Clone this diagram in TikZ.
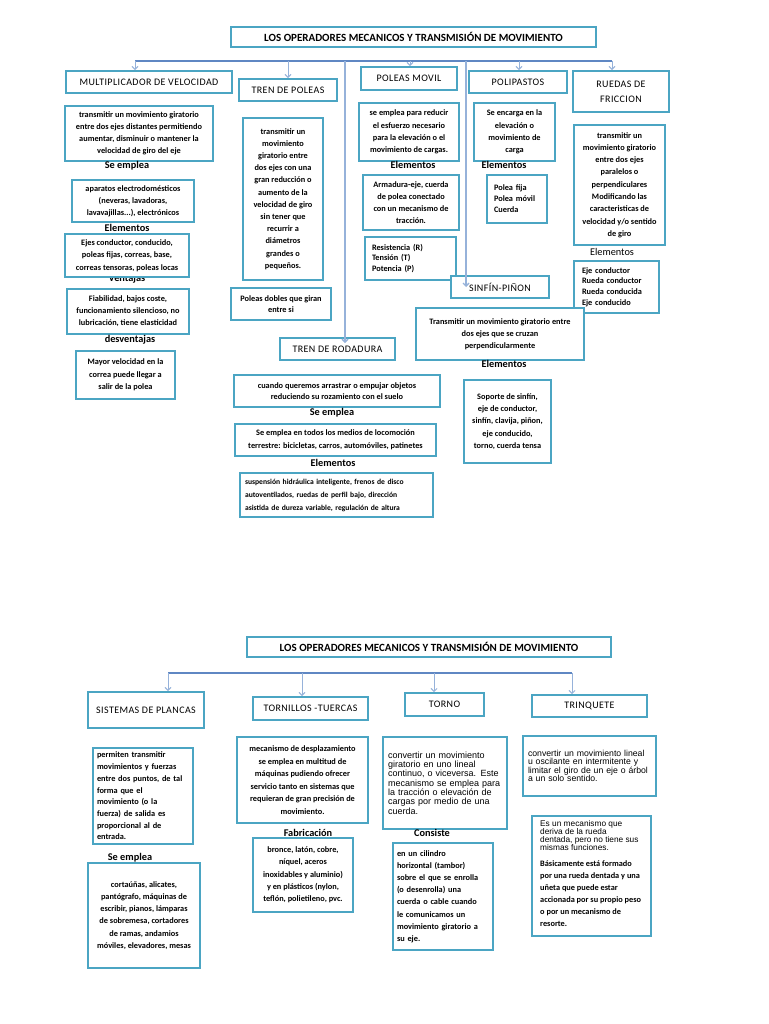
\documentclass[tikz,border=0pt]{standalone}
\usepackage{fontspec}
\setmainfont{Carlito}
\newfontfamily\arialf{Liberation Sans}
\usetikzlibrary{arrows.meta,calc}
\definecolor{boxc}{RGB}{75,165,195}
\definecolor{busc}{RGB}{95,135,195}
\definecolor{linec}{RGB}{150,178,218}
\newcommand\myd[1]{\fontsize{8.3}{#1}\selectfont\bfseries}
\newcommand\myh{\fontsize{10}{15}\selectfont\addfontfeatures{LetterSpace=4}}
\newcommand\myt{\fontsize{11}{12}\selectfont\bfseries}
\newcommand\myl{\fontsize{10.3}{12}\selectfont\bfseries}
\newcommand\mya[2]{\arialf\fontsize{#1}{#2}\selectfont}
\begin{document}
\begin{tikzpicture}[x=1pt,y=-1pt,
  box/.style={draw=boxc, line width=1.7pt, fill=white, inner sep=0pt, align=center},
  bx/.style 2 args={box, minimum width=#1, minimum height=#2},
  lbx/.style n args={3}{box, minimum width=#1, minimum height=#2, text width=#3, align=left},
  lab/.style={inner sep=0pt, font=\myl},
  conn/.style={draw=linec, line width=1pt, -{Straight Barb[length=3pt,width=6pt]}},
  bus/.style={draw=busc, line width=1.1pt},
  longc/.style={draw=linec, line width=1.4pt, -{Straight Barb[length=3pt,width=6pt]}}
]
\useasboundingbox (0,0) rectangle (768,1024);
\fill[white] (0,0) rectangle (768,1024);

% ===== top diagram =====
\node[bx={365pt}{20pt}, font=\myt] (title) at (413.5,37) {LOS OPERADORES MECANICOS Y TRANSMISIÓN DE MOVIMIENTO};

\coordinate (j1) at (135,61);
\coordinate (j2) at (288,61);
\coordinate (j3) at (410,61);
\coordinate (j4) at (519,61);
\coordinate (j5) at (612,61);
\coordinate (j6) at (345,61);
\coordinate (j7) at (466,61);
\draw[bus] (j1) -- (j5);

\node[bx={166pt}{22pt}, font=\myh] (mult) at (149,82) {MULTIPLICADOR DE VELOCIDAD};
\node[bx={98pt}{22pt}, font=\myh] (trenp) at (288,90) {TREN DE POLEAS};
\node[bx={96pt}{23pt}, font=\myh] (pmov) at (409,78.5) {POLEAS MOVIL};
\node[bx={98pt}{22pt}, font=\myh] (polip) at (518,82) {POLIPASTOS};
\node[bx={96pt}{41pt}, font=\myh] (rued) at (621,91.5) {RUEDAS DE\\FRICCION};

\draw[conn] (j1) -- (j1 |- mult.north);
\draw[conn] (j2) -- (j2 |- trenp.north);
\draw[conn] (j3) -- (j3 |- pmov.north);
\draw[conn] (j4) -- (j4 |- polip.north);
\draw[conn] (j5) -- (j5 |- rued.north);

% column 1
\node[bx={148pt}{55pt}, font=\myd{12}] (m1) at (139,133.5) {transmitir un movimiento giratorio\\entre dos ejes distantes permitiendo\\aumentar, disminuir o mantener la\\velocidad de giro del eje};
\node[lab] (l1) at (127,166) {Se emplea};
\node[bx={122pt}{42pt}, font=\myd{12}] (m2) at (133,201) {aparatos electrodomésticos\\(neveras, lavadoras,\\lavavajillas...), electrónicos};
\node[lab] (l2) at (127,228) {Elementos};
\node[lab] (l3) at (127,278.5) {Ventajas};
\node[bx={124pt}{43pt}, font=\myd{12.3}] (m3) at (127,255.5) {Ejes conductor, conducido,\\poleas fijas, correas, base,\\correas tensoras, poleas locas};
\node[bx={122pt}{45pt}, font=\myd{12}] (m4) at (128,311.5) {Fiabilidad, bajos coste,\\funcionamiento silencioso, no\\lubricación, tiene elasticidad};
\node[lab] (l4) at (130,340) {desventajas};
\node[bx={99pt}{48pt}, font=\myd{12.3}] (m5) at (125.5,375) {Mayor velocidad en la\\correa puede llegar a\\salir de la polea};

% column 2
\node[bx={80pt}{162pt}, font=\myd{12.2}] (t1) at (283,199) {transmitir un\\movimiento\\giratorio entre\\dos ejes con una\\gran reducción o\\aumento de la\\velocidad de giro\\sin tener que\\recurrir a\\diámetros\\grandes o\\pequeños.};
\node[bx={100pt}{32pt}, font=\myd{11.5}] (t2) at (281,304) {Poleas dobles que giran\\entre si};
\node[bx={115pt}{22pt}, font=\myh] (rod) at (337.5,349) {TREN DE RODADURA};
\draw[longc] (j6) -- ($(j6 |- rod.north)+(0,6)$);

% column 3
\node[bx={100pt}{58pt}, font=\myd{12.3}] (p1) at (409,132) {se emplea para reducir\\el esfuerzo necesario\\para la elevación o el\\movimiento de cargas.};
\node[lab] (l5) at (413,165) {Elementos};
\node[bx={96pt}{55pt}, font=\myd{12}] (p2) at (411,202.5) {Armadura-eje, cuerda\\de polea conectado\\con un mecanismo de\\tracción.};
\node[lbx={91pt}{43pt}{77pt}, font=\myd{10.5}] (p3) at (410.5,258.5) {Resistencia (R)\\Tensión (T)\\Potencia (P)};

% column 4
\node[bx={81pt}{58pt}, font=\myd{12.3}] (q1) at (514.5,132) {Se encarga en la\\elevación o\\movimiento de\\carga};
\node[lab] (l6) at (504,165) {Elementos};
\node[lbx={60pt}{48pt}{46pt}, font=\myd{11}] (q2) at (517,199) {Polea fija\\Polea móvil\\Cuerda};

% column 5
\node[bx={91pt}{120pt}, font=\myd{12.3}] (r1) at (619.5,185) {transmitir un\\movimiento giratorio\\entre dos ejes\\paralelos o\\perpendiculares\\Modificando las\\caracteristicas de\\velocidad y/o sentido\\de giro};
\node[lab, font=\fontsize{10.3}{12}\selectfont] (l7) at (612,252) {Elementos};
\node[lbx={85pt}{52pt}{69pt}, font=\myd{10.7}] (r2) at (616.5,287) {Eje conductor\\Rueda conductor\\Rueda conducida\\Eje conducido};

% sinfin
\node[bx={98pt}{22pt}, font=\myh] (s0) at (500,287) {SINFÍN-PIÑON};
\draw[longc] (j7) -- (j7 |- s0.center);
\node[bx={168pt}{52pt}, font=\myd{12}] (s1) at (500,334) {Transmitir un movimiento giratorio entre\\dos ejes que se cruzan\\perpendicularmente};
\node[lab] (l8) at (504,364) {Elementos};
\node[bx={87pt}{83pt}, font=\myd{12.4}] (s2) at (507.5,421.5) {Soporte de sinfín,\\eje de conductor,\\sinfín, clavija, piñon,\\eje conducido,\\torno, cuerda tensa};

% rodadura
\node[bx={206pt}{32pt}, font=\myd{11.7}] (d1) at (337,391) {cuando queremos arrastrar o empujar objetos\\reduciendo su rozamiento con el suelo};
\node[lab] (l9) at (332,413) {Se emplea};
\node[bx={201pt}{32pt}, font=\myd{12.7}] (d2) at (335.5,440) {Se emplea en todos los medios de locomoción\\terrestre: bicicletas, carros, automóviles, patinetes};
\node[lab] (l10) at (333,463) {Elementos};
\node[lbx={193pt}{44pt}{183pt}, font=\fontsize{7.6}{13}\selectfont\bfseries] (d3) at (336.5,495) {suspensión hidráulica inteligente, frenos de disco\\autoventilados, ruedas de perfil bajo, dirección\\asistida de dureza variable, regulación de altura};

% ===== bottom diagram =====
\node[bx={364pt}{20pt}, font=\myt] (title2) at (429,647) {LOS OPERADORES MECANICOS Y TRANSMISIÓN DE MOVIMIENTO};
\coordinate (k1) at (168,673);
\coordinate (k2) at (302,673);
\coordinate (k3) at (434,673);
\coordinate (k4) at (572,673);
\draw[bus] (k1) -- (k4);

\node[bx={116pt}{36pt}, font=\myh] (sis) at (146,710) {SISTEMAS DE PLANCAS};
\node[bx={115pt}{23pt}, font=\myh] (tor) at (310.5,708.5) {TORNILLOS -TUERCAS};
\node[bx={79pt}{23pt}, font=\myh] (torno) at (444.5,704.5) {TORNO};
\node[bx={115pt}{22pt}, font=\myh] (trin) at (589.5,706) {TRINQUETE};
\draw[conn] (k1) -- (k1 |- sis.north);
\draw[conn] (k2) -- (k2 |- tor.north);
\draw[conn] (k3) -- (k3 |- torno.north);
\draw[conn] (k4) -- (k4 |- trin.north);

\node[lbx={100pt}{96pt}{92pt}, font=\myd{11.7}] (b1) at (143,796) {permiten transmitir\\movimientos y fuerzas\\entre dos puntos, de tal\\forma que el\\movimiento (o la\\fuerza) de salida es\\proporcional al de\\entrada.};
\node[lab] (l11) at (130,858) {Se emplea};
\node[bx={112pt}{105pt}, font=\myd{12.2}] (b2) at (144,915.5) {cortaúñas, alicates,\\pantógrafo, máquinas de\\escribir, pianos, lámparas\\de sobremesa, cortadores\\de ramas, andamios\\móviles, elevadores, mesas};

\node[bx={131pt}{86pt}, font=\myd{12.5}] (c1) at (302.5,780) {mecanismo de desplazamiento\\se emplea en multitud de\\máquinas pudiendo ofrecer\\servicio tanto en sistemas que\\requieran de gran precisión de\\movimiento.};
\node[lab] (l12) at (308,833) {Fabricación};
\node[bx={100pt}{74pt}, font=\myd{12.3}] (c2) at (303,875) {bronce, latón, cobre,\\níquel, aceros\\inoxidables y aluminio)\\y en plásticos (nylon,\\teflón, polietileno, pvc.};

\node[lbx={124pt}{92pt}{114pt}, font=\mya{9}{9.3}] (e1) at (445,783) {convertir un movimiento\\giratorio en uno lineal\\continuo, o viceversa. Este\\mecanismo se emplea para\\la tracción o elevación de\\cargas por medio de una\\cuerda.};
\node[lab] (l13) at (432,833) {Consiste};
\node[lbx={100pt}{107pt}{92pt}, font=\myd{12.2}] (e2) at (443,896.5) {en un cilindro\\horizontal (tambor)\\sobre el que se enrolla\\(o desenrolla) una\\cuerda o cable cuando\\le comunicamos un\\movimiento giratorio a\\su eje.};

\node[lbx={133pt}{60pt}{123pt}, font=\mya{8.7}{8.3}] (f1) at (589.5,766) {convertir un movimiento lineal\\u oscilante en intermitente y\\limitar el giro de un eje o árbol\\a un solo sentido.};
\node[bx={119pt}{120pt}] (f2) at (591.5,876) {};
\node[anchor=north west, inner sep=0pt, align=left, font=\mya{8.3}{8}] (f2a) at (540,820) {Es un mecanismo que\\deriva de la rueda\\dentada, pero no tiene sus\\mismas funciones.};
\node[anchor=north west, inner sep=0pt, align=left, font=\myd{12}] (f2b) at (540,860) {Básicamente está formado\\por una rueda dentada y una\\uñeta que puede estar\\accionada por su propio peso\\o por un mecanismo de\\resorte.};
\end{tikzpicture}
\end{document}
